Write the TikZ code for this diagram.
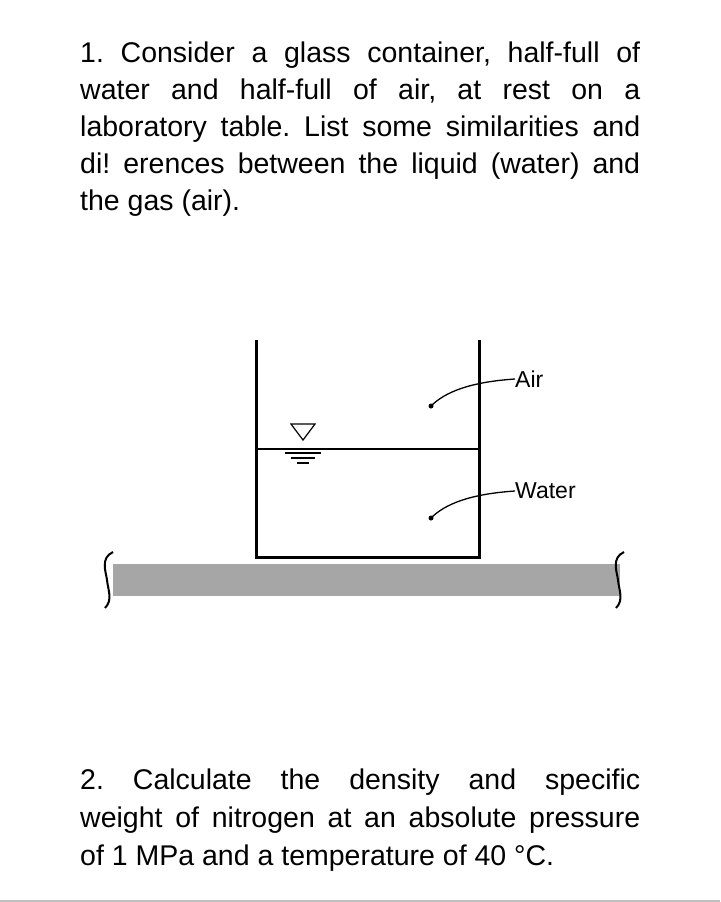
\documentclass[tikz,border=0pt]{standalone}
\usepackage{fontspec}
\setmainfont{Liberation Sans}
\frenchspacing
\begin{document}
\begin{tikzpicture}[x=1pt,y=-1pt,
  txt/.style={anchor=base west,inner sep=0pt,font=\fontsize{28.5}{28.5}\selectfont},
  lbl/.style={anchor=west,inner sep=0pt,font=\fontsize{23}{23}\selectfont},
  wall/.style={line width=3pt},
  lead/.style={line width=1.3pt},
  brace/.style={line width=2pt}]
\useasboundingbox[fill=white] (0,0) rectangle (720,902);
\draw[gray!50,line width=2pt] (0,901) -- (720,901);
% text 1
\node[txt] (l1) at (80,62) {\makebox[560pt][s]{1. Consider a glass container, half-full of}};
\node[txt] (l2) at (80,99) {\makebox[560pt][s]{water and half-full of air, at rest on a}};
\node[txt] (l3) at (80,136) {\makebox[560pt][s]{laboratory table. List some similarities and}};
\node[txt] (l4) at (80,173) {\makebox[560pt][s]{di! erences between the liquid (water) and}};
\node[txt] (l5) at (80,210) {the gas (air).};
% text 2
\node[txt] (m1) at (80,789) {\makebox[560pt][s]{2. Calculate the density and specific}};
\node[txt] (m2) at (80,827) {\makebox[560pt][s]{weight of nitrogen at an absolute pressure}};
\node[txt] (m3) at (80,865) {of 1 MPa and a temperature of 40 °C.};
% table
\fill[gray!70] (113,564) rectangle (620,596);
\draw[brace] (113,552) .. controls (100,558) and (106,572) .. (107,580) .. controls (108,590) and (113,600) .. (105,608);
\draw[brace] (624,552) .. controls (611,558) and (617,572) .. (618,580) .. controls (619,590) and (624,600) .. (616,608);
% container
\draw[wall,line join=miter] (256,340) -- (256,557) -- (479,557) -- (479,340);
\draw[line width=1.2pt] (256,449) -- (479,449);
% free-surface symbol
\draw[line width=1.2pt] (291,424) -- (315,424) -- (303,440) -- cycle;
\draw[line width=1.2pt] (285,453) -- (321,453) (291,458) -- (315,458) (297,463) -- (309,463);
% leaders
\coordinate (da) at (431,406);
\coordinate (dw) at (431,518);
\fill (da) circle (2.5);
\fill (dw) circle (2.5);
\node[lbl] (air) at (515,379) {Air};
\node[lbl] (water) at (515,491) {Water};
\draw[lead] (da) .. controls (445,392) and (470,382) .. (air.west);
\draw[lead] (dw) .. controls (445,504) and (470,494) .. (water.west);
\end{tikzpicture}
\end{document}
